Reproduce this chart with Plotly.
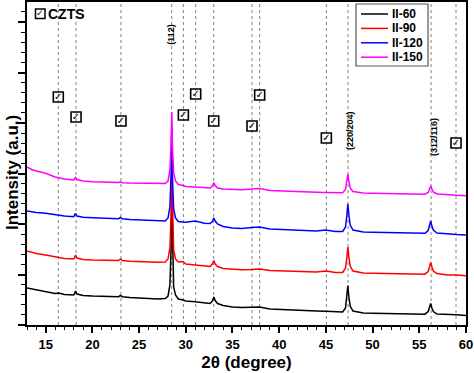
import plotly.graph_objects as go

# ---------------- data ----------------
two_theta = [13, 13.5, 14, 15, 16, 16.4, 17, 18, 18.05, 18.2, 18.35, 19, 20, 21, 22, 22.8, 23.0, 23.2, 24, 25,
             26, 27, 27.8, 28.1, 28.3, 28.42, 28.5, 28.58, 28.7, 28.9, 29.2, 29.7, 30, 31, 32, 32.6, 32.85, 33.0, 33.15, 33.4,
             34, 35, 36, 37.1, 37.9, 39, 40, 42, 44, 45, 46, 46.8, 47.1, 47.25, 47.35, 47.45, 47.6, 47.9, 49, 50,
             52, 54, 55.6, 55.95, 56.1, 56.22, 56.35, 56.5, 56.9, 58, 59, 60]

ii_60 = [37, 36, 35, 33, 31.5, 32, 30.5, 30, 31, 34, 31, 29.5, 29, 28.5, 28, 28.3, 29.5, 28.3, 27.5, 27,
         26.5, 26, 26.5, 29, 40, 75, 125, 70, 38, 30, 26, 25, 24, 23.3, 22, 21.5, 24, 28, 24.5, 21.5,
         19.5, 18, 17.5, 18, 18, 16, 15.5, 14.7, 14, 13.8, 13, 13, 17, 28, 39.5, 29, 19, 14, 12, 11.7,
         11.3, 11, 10.8, 13.5, 18, 21.5, 17, 13.5, 11, 10.2, 10.2, 9.5]

ii_90 = [74, 72.5, 71.5, 70, 68, 67, 66.5, 66, 67, 70, 67, 65.5, 65, 64.7, 64.3, 64.5, 66, 64.5, 63.7, 63.3,
         63, 62.7, 63, 66, 77, 110, 157, 105, 75, 66, 63, 63.5, 61, 60, 59, 58.5, 61, 64.5, 61, 58.5,
         56.5, 55.7, 55.3, 55.5, 56, 54.5, 54.3, 53.5, 53, 54, 52.5, 52.5, 57, 68, 78, 69, 59, 54, 52, 51.7,
         51.3, 51, 50.8, 53.5, 58, 62.5, 58, 54, 51.5, 50, 50, 49.3]

ii_120 = [114, 113, 112.5, 111.7, 110, 109.5, 109, 108.3, 109.5, 111.5, 109, 107.8, 107.3, 106.8, 106.4, 106.3, 107.5, 106.2, 105.5, 105,
          104.5, 104, 104, 107, 118, 150, 198, 146, 116, 107, 103.5, 103, 102.7, 104, 101.8, 101.5, 103.5, 107, 104, 101,
          98.5, 97, 96.5, 97.5, 98, 96, 95.7, 95, 94, 95, 93.5, 93.5, 98, 110, 121, 111, 100, 95, 93, 92.7,
          92.3, 92, 91.7, 94.5, 99.5, 104, 99, 95, 92, 91, 90.5, 90]

ii_150 = [158, 155.5, 154, 151.7, 148, 147, 146, 145, 146, 147.5, 145.5, 144, 143.3, 143, 142.6, 142.4, 143.3, 142.3, 142, 141.7,
          141.4, 141.2, 141.5, 144, 155, 180, 213, 176, 152, 144, 140.5, 139.5, 138.5, 138, 137.2, 137, 139, 142.3, 139.5, 137,
          136, 135.5, 135.2, 136, 136.5, 134.5, 134, 133.3, 132.7, 132.5, 132.3, 132.3, 135.5, 143, 151, 144, 137, 133.5, 132, 131.7,
          131.3, 131, 130.8, 132.5, 136, 139, 136, 133, 131, 130, 129.7, 129.3]

series_names = ["II-60", "II-90", "II-120", "II-150"]
series_values = [ii_60, ii_90, ii_120, ii_150]
series_colors = ["#000000", "#ff0000", "#0000ff", "#ff00ff"]

# CZTS reference peak positions (dotted lines) and check-mark heights
czts_lines = [16.35, 18.25, 23.06, 28.49, 29.74, 31.06, 32.99, 37.09, 37.91, 45.05, 47.37, 56.26, 58.93]
mark_x = [16.35, 18.25, 23.06, 29.74, 31.06, 32.99, 37.09, 37.91, 45.05, 58.93]
mark_y = [228, 208, 204, 210, 231, 204, 199, 230, 187, 182]

# Miller index labels
hkl_text = ["(112)", "(220/204)", "(312/116)"]
hkl_x = [28.49, 47.37, 56.26]
hkl_y = [291, 194, 188]

x_ticks = [15, 20, 25, 30, 35, 40, 45, 50, 55, 60]

FONT = "Arial, Liberation Sans, sans-serif"

# plot-area geometry in pixels (used for decoration placement only)
L, R, T, B = 27, 466, 2, 325
W, H = R - L, B - T


def px(xp):
    return (xp - L) / W


def py(yp):
    return (B - yp) / H


fig = go.Figure()

for name, vals, col in zip(series_names, series_values, series_colors):
    fig.add_trace(go.Scatter(x=two_theta, y=vals, mode="lines", name=name, showlegend=False,
                             line=dict(color=col, width=1.5)))

fig.add_trace(go.Scatter(
    x=mark_x, y=mark_y, mode="markers+text", showlegend=False,
    marker=dict(symbol="square-open", size=10, color="black", line=dict(width=1.6, color="black")),
    text=["<b>✓</b>"] * len(mark_x), textposition="middle center",
    textfont=dict(family="DejaVu Sans", size=10, color="black"),
    hoverinfo="skip"))

for xv in czts_lines:
    fig.add_shape(type="line", x0=xv, x1=xv, y0=0, y1=1, xref="x", yref="paper",
                  line=dict(color="#808080", width=1, dash="dot"), layer="below")

for t, xv, yv, dx in zip(hkl_text, hkl_x, hkl_y, [-1, 2, 3]):
    fig.add_annotation(x=xv, y=yv, text="<b>%s</b>" % t, showarrow=False, textangle=-90, xshift=dx,
                       font=dict(family=FONT, size=9, color="black"))

# CZTS label: box + check + text
fig.add_shape(type="rect", xref="paper", yref="paper", x0=px(35.5), x1=px(45), y0=py(18.5), y1=py(9),
              line=dict(color="black", width=1.5), layer="above")
fig.add_annotation(xref="paper", yref="paper", x=px(40.3), y=py(13.5), text="<b>✓</b>", showarrow=False,
                   xanchor="center", yanchor="middle",
                   font=dict(family="DejaVu Sans", size=9, color="black"))
fig.add_annotation(xref="paper", yref="paper", x=px(45.5), y=py(14),
                   xanchor="left", yanchor="middle", text="<b>CZTS</b>", showarrow=False,
                   font=dict(family=FONT, size=14, color="black"))

# custom legend (compact, like the reference)
fig.add_shape(type="rect", xref="paper", yref="paper", x0=px(356), x1=px(428), y0=py(66), y1=py(4),
              line=dict(color="#555555", width=1.2), fillcolor="white", layer="above")
for i, (name, col) in enumerate(zip(series_names, series_colors)):
    yy = 14 + 14.4 * i
    fig.add_shape(type="line", xref="paper", yref="paper", x0=px(361), x1=px(388), y0=py(yy), y1=py(yy),
                  line=dict(color=col, width=1.5), layer="above")
    fig.add_annotation(xref="paper", yref="paper", x=px(390), y=py(yy), xanchor="left", yanchor="middle",
                       text="<b>%s</b>" % name, showarrow=False,
                       font=dict(family=FONT, size=12, color="black"))

# y title
fig.add_annotation(xref="paper", yref="paper", x=px(12), y=py(173),
                   text="<b>Intensity (a.u.)</b>", textangle=-90, showarrow=False,
                   xanchor="center", yanchor="middle",
                   font=dict(family=FONT, size=17, color="black"))

fig.update_layout(
    width=474, height=373,
    margin=dict(l=27, r=8, t=2, b=48, autoexpand=False),
    paper_bgcolor="white", plot_bgcolor="white",
    font=dict(family=FONT, color="black"),
    showlegend=False,
    xaxis=dict(range=[13, 60], tickvals=x_ticks, ticktext=["<b>%d</b>" % v for v in x_ticks],
               automargin=False,
               ticks="outside", ticklen=6, tickwidth=1.5, tickcolor="black",
               minor=dict(dtick=1, tick0=13, ticks="outside", ticklen=3, tickwidth=1, tickcolor="black"),
               showline=True, linewidth=2, linecolor="black", mirror=True,
               showgrid=False, zeroline=False,
               tickfont=dict(family=FONT, size=13, color="black"),
               title=dict(text="<b>2θ (degree)</b>", standoff=6,
                          font=dict(family=FONT, size=17, color="black"))),
    yaxis=dict(range=[0, 323], tick0=0, dtick=50.5, showticklabels=False,
               automargin=False,
               ticks="outside", ticklen=7, tickwidth=1.5, tickcolor="black",
               minor=dict(dtick=10.1, tick0=0, ticks="outside", ticklen=4, tickwidth=1, tickcolor="black"),
               showline=True, linewidth=2, linecolor="black", mirror=True,
               showgrid=False, zeroline=False),
)

fig.write_html("out.html", config={"displayModeBar": False},
               post_script="document.body.style.margin='0';document.body.style.padding='0';")
